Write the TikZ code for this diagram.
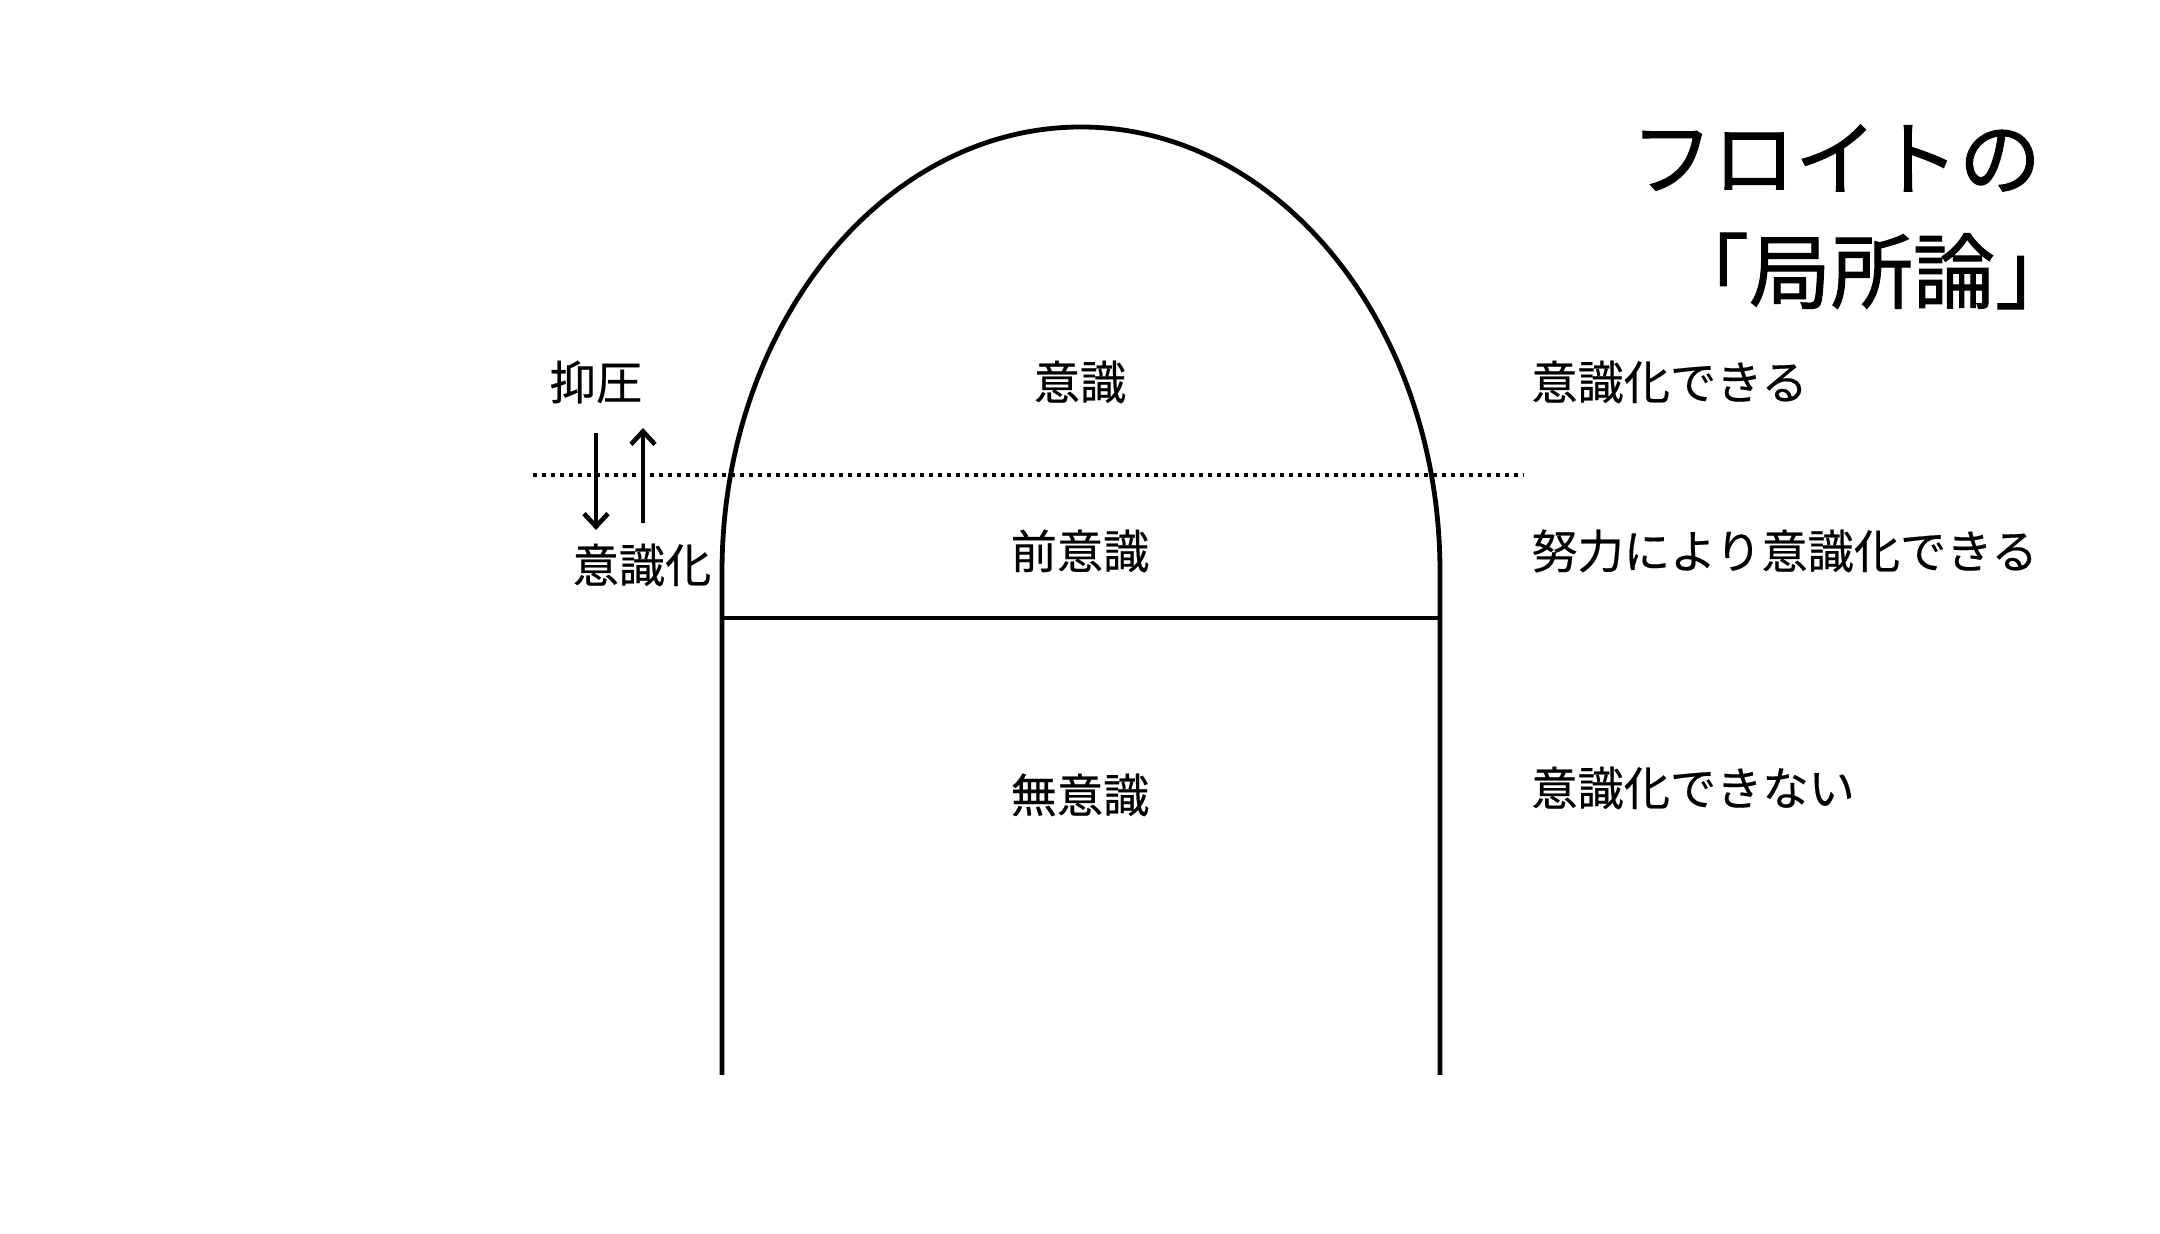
\documentclass[tikz,border=0pt]{standalone}
\usepackage{fontspec}
\setmainfont{Noto Sans CJK JP}
\newfontfamily\lblfont{Noto Sans CJK JP}[FakeBold=0.4]
\newfontfamily\ttlfont{Noto Sans CJK JP}[FakeBold=1.2]
\usetikzlibrary{arrows.meta}
\begin{document}
\begin{tikzpicture}[x=0.5pt,y=0.5pt,
  lbl/.style={inner sep=0pt,font=\lblfont\fontsize{23.1}{28}\selectfont},
  ttl/.style={inner sep=0pt,font=\ttlfont\fontsize{41}{49}\selectfont},
  wall/.style={line width=2.4pt},
  arr/.style={line width=2.3pt,-{Straight Barb[length=6.5pt,width=12pt,line width=2.3pt]}}]
\useasboundingbox[fill=white] (0,0) rectangle (2160,-1234);
% arch and walls
\coordinate (al) at (722,-572);
\coordinate (ar) at (1440,-572);
\coordinate (bl) at (722,-1075);
\coordinate (br) at (1440,-1075);
\coordinate (hl) at (722,-618);
\coordinate (hr) at (1440,-618);
\draw[wall] (bl) -- (al) arc[start angle=180,end angle=0,x radius=359,y radius=445] -- (br);
\draw[line width=2.1pt] (hl) -- (hr);
% dotted boundary
\coordinate (dl) at (533,-475);
\coordinate (dr) at (1524,-475);
\draw[line width=2.1pt,dash pattern=on 2.2pt off 2.3pt] (dl) -- (dr);
% arrows
\coordinate (d1) at (596,-433);
\coordinate (d2) at (596,-530);
\coordinate (u1) at (643,-523);
\coordinate (u2) at (643,-428);
\draw[arr] (d1) -- (d2);
\draw[arr] (u1) -- (u2);
% labels
\node[lbl] (ishiki) at (1080,-382) {意識};
\node[lbl] (zen) at (1080,-551) {前意識};
\node[lbl] (mu) at (1080,-795) {無意識};
\node[lbl] (yokuatsu) at (596,-382) {抑圧};
\node[lbl] (ishikika) at (642,-565) {意識化};
\node[lbl,anchor=west] (r1) at (1531,-382) {意識化できる};
\node[lbl,anchor=west] (r2) at (1531,-551) {努力により意識化できる};
\node[lbl,anchor=west] (r3) at (1531,-788) {意識化できない};
% title
\node[ttl] (t1) at (1836,-158) {フロイトの};
\node[ttl] (t2) at (1872,-271) {「局所論」};
\end{tikzpicture}
\end{document}
